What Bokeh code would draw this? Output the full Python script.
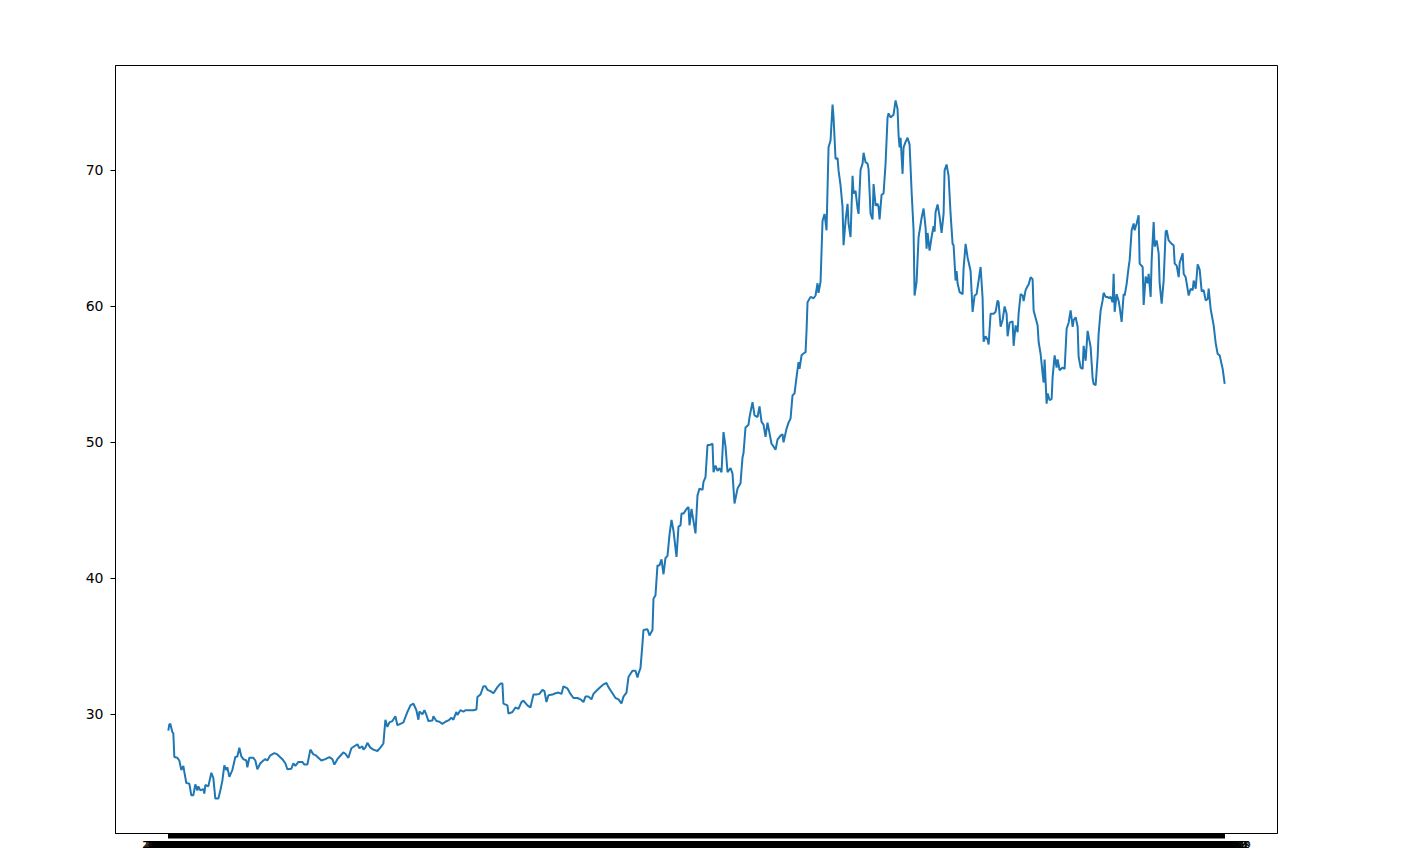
import pandas as pd
from bokeh.plotting import figure
from bokeh.models import Range1d, FixedTicker, CustomJSTickFormatter, ColumnDataSource
from bokeh.embed import file_html
from bokeh.resources import INLINE

# trading-day index of each read value, and the value
day = [0, 1, 2, 4, 5, 6, 9, 11, 13, 15, 16, 18, 21, 23, 25, 27, 29, 30, 32, 35,
       36, 37, 40, 43, 45, 47, 50, 52, 54, 56, 58, 59, 61, 64, 67, 69, 71, 73, 75, 78,
       79, 81, 85, 87, 89, 92, 95, 97, 99, 102, 106, 109, 114, 117, 119, 123, 125, 127, 130, 134,
       136, 139, 142, 145, 147, 150, 153, 157, 161, 164, 166, 169, 172, 175, 177, 180, 183, 186, 189, 191,
       194, 195, 197, 199, 202, 205, 209, 212, 215, 217, 219, 221, 224, 227, 229, 232, 235, 239, 242, 245,
       248, 250, 251, 254, 256, 258, 260, 264, 265, 268, 271, 274, 277, 280, 283, 285, 288, 289, 292, 295,
       297, 300, 305, 308, 309, 312, 315, 317, 319, 322, 325, 329, 332, 334, 335, 339, 340, 344, 347, 350,
       353, 355, 359, 362, 365, 368, 371, 374, 376, 378, 380, 384, 387, 390, 393, 395, 399, 402, 405, 409,
       412, 415, 417, 420, 423, 425, 429, 432, 435, 438, 440, 444, 447, 450, 453, 455, 458, 460, 464, 467,
       469, 470, 472, 474, 475, 479, 481, 484, 485, 487, 489, 491, 493, 495, 497, 499, 501, 503, 505, 508,
       510, 512, 513, 515, 518, 520, 521, 523, 527, 529, 531, 534, 535, 537, 539, 541, 544, 545, 547, 549,
       551, 553, 555, 557, 559, 562, 564, 566, 569, 572, 574, 575, 577, 580, 581, 584, 586, 589, 591, 593,
       595, 597, 599, 603, 605, 607, 609, 612, 614, 615, 618, 620, 622, 624, 626, 628, 630, 631, 633, 636,
       637, 638, 639, 642, 645, 647, 649, 650, 652, 654, 656, 658, 660, 662, 664, 665, 667, 669, 670, 672,
       674, 675, 677, 679, 680, 682, 684, 685, 687, 689, 690, 692, 694, 695, 697, 699, 700, 702, 704, 705,
       707, 709, 710, 711, 713, 715, 717, 719, 720, 722, 725, 727, 729, 730, 731, 732, 734, 735, 737, 739,
       741, 743, 745, 746, 748, 750, 753, 755, 757, 758, 759, 761, 763, 765, 766, 767, 769, 771, 773, 775,
       776, 778, 780, 782, 784, 785, 787, 788, 789, 791, 794, 795, 797, 799, 802, 804, 806, 808, 810, 812,
       814, 815, 817, 819, 820, 822, 825, 827, 829, 830, 832, 834, 836, 838, 839, 841, 844, 845, 847, 849,
       850, 852, 854, 855, 857, 859, 860, 862, 864, 865, 869, 870, 872, 874, 875, 876, 878, 879, 881, 883,
       884, 886, 888, 889, 891, 894, 896, 898, 900, 902, 904, 905, 907, 909, 910, 912, 914, 915, 917, 919,
       920, 922, 924, 925, 927, 929, 930, 932, 934, 935, 937, 939, 940, 942, 944, 945, 946, 948, 950, 951,
       953, 955, 956, 958, 960, 961, 963, 965, 966, 968, 970, 971, 974, 975, 977, 979, 980, 982, 983, 985,
       986, 988, 990, 991, 993, 995, 997, 998, 1000, 1003, 1005, 1006, 1008, 1010, 1011, 1014, 1015, 1017, 1020, 1022,
       1024, 1025, 1027, 1029, 1031, 1033, 1035, 1037, 1039, 1040, 1042, 1045, 1047, 1049, 1051, 1054, 1056]

price = [28.8, 29.26, 29.3, 28.7, 28.6, 26.86, 26.8, 26.6, 25.9, 26.2, 25.76, 24.95, 24.9, 24.04, 24.04, 24.85, 24.4, 24.7, 24.4, 24.5,
         24.17, 24.8, 24.7, 25.7, 25.3, 23.8, 23.8, 24.4, 25.1, 26.25, 25.9, 26.1, 25.4, 25.9, 26.86, 26.9, 27.55, 26.9, 26.7, 26.6,
         26.1, 26.8, 26.8, 26.6, 25.96, 26.4, 26.6, 26.7, 26.6, 26.98, 27.15, 27.05, 26.7, 26.4, 25.96, 26.0, 26.4, 26.2, 26.5, 26.5,
         26.3, 26.3, 27.4, 27.05, 27.0, 26.8, 26.6, 26.7, 26.85, 26.7, 26.3, 26.7, 26.95, 27.2, 27.1, 26.8, 27.5, 27.65, 27.8, 27.5,
         27.65, 27.4, 27.55, 27.9, 27.55, 27.4, 27.3, 27.55, 27.85, 29.6, 29.07, 29.4, 29.5, 29.85, 29.2, 29.3, 29.4, 30.17, 30.66, 30.78,
         30.3, 29.6, 30.2, 30.0, 30.3, 29.95, 29.5, 29.55, 29.85, 29.5, 29.45, 29.3, 29.45, 29.55, 29.75, 29.6, 30.17, 29.95, 30.3, 30.2,
         30.3, 30.3, 30.3, 30.35, 31.27, 31.45, 32.06, 32.06, 31.8, 31.7, 31.55, 32.0, 32.26, 32.26, 30.78, 30.66, 30.05, 30.17, 30.5, 30.4,
         30.9, 31.0, 30.66, 30.5, 31.45, 31.45, 31.5, 31.8, 31.7, 30.9, 31.4, 31.45, 31.55, 31.6, 31.5, 32.06, 31.9, 31.5, 31.2, 31.2,
         31.1, 30.9, 31.3, 31.3, 31.1, 31.5, 31.8, 32.0, 32.2, 32.3, 32.0, 31.55, 31.2, 31.1, 30.8, 31.3, 31.6, 32.74, 33.2, 33.2,
         32.7, 33.0, 33.4, 35.2, 36.2, 36.25, 35.8, 36.2, 38.5, 38.75, 40.95, 40.95, 41.4, 40.3, 41.5, 41.65, 43.2, 44.3, 43.5, 41.57,
         43.8, 43.9, 44.76, 44.76, 45.1, 45.25, 43.9, 45.1, 43.3, 46.1, 46.6, 46.5, 47.1, 47.45, 49.8, 49.8, 49.9, 47.8, 48.3, 47.9,
         48.1, 47.8, 50.76, 49.7, 47.8, 48.1, 47.7, 45.5, 46.6, 47.0, 48.9, 49.2, 51.1, 51.3, 51.86, 52.96, 51.98, 51.86, 52.65, 51.5,
         51.3, 50.4, 51.45, 49.9, 49.7, 49.46, 50.2, 50.5, 50.6, 50.0, 51.0, 51.45, 51.75, 53.45, 53.6, 54.8, 55.9, 55.4, 56.4, 56.6,
         56.6, 58.2, 60.3, 60.7, 60.6, 60.8, 61.7, 61.0, 61.8, 66.3, 66.8, 65.6, 71.7, 72.2, 74.85, 73.9, 70.86, 70.9, 70.0, 68.9,
         67.3, 64.5, 66.3, 67.55, 66.1, 65.1, 69.6, 68.3, 68.5, 67.2, 66.8, 70.05, 70.5, 71.3, 70.6, 70.5, 70.1, 66.8, 66.4, 69.0,
         67.4, 67.55, 67.3, 66.4, 68.2, 68.3, 70.5, 73.9, 74.2, 73.9, 74.1, 75.15, 74.5, 72.6, 71.7, 72.4, 69.75, 71.7, 72.1, 72.4,
         71.9, 68.5, 65.6, 60.8, 61.8, 65.1, 66.5, 67.2, 65.8, 64.25, 65.4, 64.1, 65.1, 65.9, 65.5, 66.95, 67.5, 66.6, 65.4, 66.8,
         70.0, 70.44, 69.6, 66.8, 64.6, 64.5, 61.9, 62.6, 61.7, 61.05, 60.9, 62.8, 64.6, 63.6, 62.6, 59.6, 60.8, 60.9, 61.9, 62.9,
         60.6, 57.4, 57.8, 57.55, 57.2, 59.46, 59.46, 59.6, 60.44, 60.3, 58.5, 59.0, 60.0, 59.46, 57.8, 58.8, 58.9, 57.1, 58.6, 58.1,
         59.46, 60.9, 60.8, 60.4, 61.2, 61.5, 61.6, 62.15, 62.0, 59.7, 58.6, 57.4, 56.5, 55.05, 54.4, 56.1, 52.85, 53.6, 53.1, 53.2,
         54.8, 56.4, 55.5, 56.1, 55.3, 55.5, 55.4, 58.36, 58.8, 59.7, 58.5, 59.0, 59.2, 58.5, 56.3, 55.5, 55.4, 57.1, 56.0, 58.2,
         57.8, 57.0, 54.7, 54.3, 54.2, 56.3, 58.0, 59.7, 60.44, 61.0, 60.7, 60.7, 60.6, 60.7, 60.3, 62.4, 59.6, 60.9, 60.4, 59.95,
         58.86, 60.9, 60.8, 61.66, 62.9, 63.4, 65.6, 66.1, 65.6, 66.1, 66.7, 63.15, 62.9, 60.1, 62.2, 61.7, 62.4, 60.7, 63.4, 66.2,
         64.4, 64.85, 63.9, 61.7, 60.2, 61.9, 65.5, 65.6, 64.85, 64.6, 64.5, 63.15, 63.0, 62.15, 63.2, 63.9, 62.4, 62.15, 60.8, 61.3,
         61.2, 61.9, 61.3, 63.1, 62.7, 61.1, 61.2, 60.44, 60.55, 61.3, 59.8, 58.6, 57.3, 56.5, 56.4, 55.4, 54.3]

n_days = 1057
trade_dates = [d.strftime("%Y-%m-%d") for d in pd.bdate_range("2018-01-02", periods=n_days)]
y_ticks = [30, 40, 50, 60, 70]

source = ColumnDataSource(data=dict(day=day, price=price))

pad_x = 0.05 * (n_days - 1)
lo, hi = min(price), max(price)
pad_y = 0.05 * (hi - lo)

p = figure(width=1401, height=852, output_backend="svg", toolbar_location=None,
           x_range=Range1d(-pad_x, n_days - 1 + pad_x),
           y_range=Range1d(lo - pad_y, hi + pad_y),
           min_border_left=115, min_border_right=124,
           min_border_top=65, min_border_bottom=19)

p.line(x="day", y="price", source=source, line_color="#1f77b4", line_width=2)

p.grid.visible = False
p.background_fill_color = "white"
p.border_fill_color = "white"
p.outline_line_color = "black"
p.outline_line_alpha = 1.0
p.outline_line_width = 1

p.xaxis.ticker = FixedTicker(ticks=list(range(n_days)), minor_ticks=[])
p.xaxis.formatter = CustomJSTickFormatter(args=dict(labels=trade_dates),
                                          code="const i = Math.round(tick); return (i >= 0 && i < labels.length) ? labels[i] : '';")
p.xaxis.major_label_text_font_size = "9px"
p.xaxis.major_label_standoff = 2
p.xaxis.major_tick_out = 5
p.xaxis.major_tick_in = 0

p.yaxis.ticker = FixedTicker(ticks=y_ticks, minor_ticks=[])
p.yaxis.major_label_text_font_size = "14px"
p.yaxis.major_label_standoff = 7
p.yaxis.major_tick_out = 5
p.yaxis.major_tick_in = 0

for ax in (p.xaxis[0], p.yaxis[0]):
    ax.axis_line_color = "black"
    ax.major_tick_line_color = "black"
    ax.minor_tick_line_color = None
    ax.major_label_text_color = "black"
    ax.major_label_text_font = "DejaVu Sans"

open("out.html", "w").write(file_html(p, INLINE))
